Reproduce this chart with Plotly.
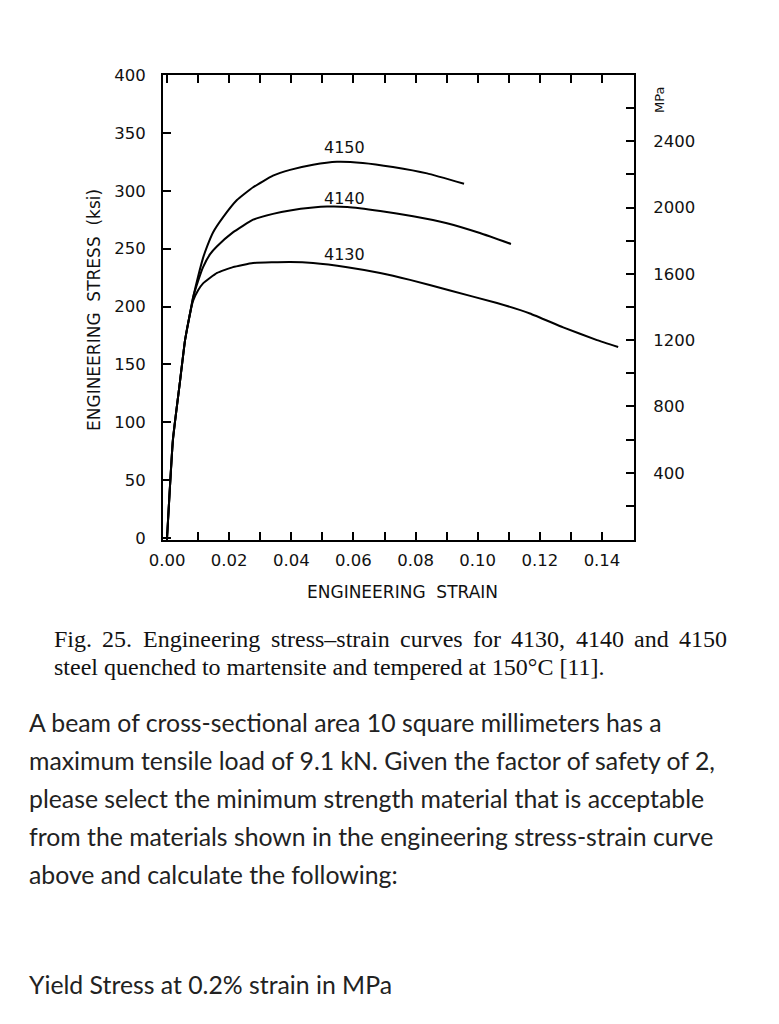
import plotly.graph_objects as go

# ---------------- data ----------------
strain_4130 = [0, 0.0019, 0.0042, 0.0058, 0.0074, 0.0084, 0.0100, 0.0116, 0.0161, 0.0212,
               0.0277, 0.0396, 0.0470, 0.0580, 0.0686, 0.0782, 0.0908, 0.1062, 0.1168,
               0.1275, 0.1384, 0.1452]
stress_4130 = [0, 85, 136, 171, 194, 205, 214, 220, 229, 234,
               237.6, 238.4, 237.6, 234, 229, 223, 214, 203, 194,
               182, 171, 165]

strain_4140 = [0, 0.0019, 0.0042, 0.0058, 0.0074, 0.0084, 0.0100, 0.0116, 0.0138, 0.0161,
               0.0212, 0.0277, 0.0341, 0.0396, 0.0470, 0.0515, 0.0580, 0.0686, 0.0792,
               0.0901, 0.1007, 0.1107]
stress_4140 = [0, 85, 136, 171, 194, 208, 222, 234, 245, 252,
               264, 275, 280, 283, 285.5, 286.3, 286, 282.5, 278,
               272, 263.5, 254]

strain_4150 = [0, 0.0019, 0.0042, 0.0058, 0.0074, 0.0084, 0.0100, 0.0116, 0.0129, 0.0148,
               0.0180, 0.0225, 0.0277, 0.0341, 0.0396, 0.0470, 0.0547, 0.0630, 0.0727,
               0.0837, 0.0956]
stress_4150 = [0, 85, 136, 171, 194, 208, 226, 242, 252, 264,
               277, 292, 303, 313, 318, 322.5, 325, 324, 320.5,
               315, 306]

curve_names = ["4130", "4140", "4150"]
curve_label_pos = [(0.057, 244.5), (0.057, 293.7), (0.057, 337.8)]

x_tickvals = [round(i * 0.01, 2) for i in range(15)]
x_ticktext = ["0.00", "", "0.02", "", "0.04", "", "0.06", "", "0.08", "", "0.10", "", "0.12", "", "0.14"]
ksi_tickvals = [0, 50, 100, 150, 200, 250, 300, 350, 400]
mpa_tickvals = [200, 400, 600, 800, 1000, 1200, 1400, 1600, 1800, 2000, 2200, 2400, 2600]
mpa_ticktext = ["", "400", "", "800", "", "1200", "", "1600", "", "2000", "", "2400", ""]

caption_line1 = ["Fig.", "25.", "Engineering", "stress–strain", "curves", "for",
                 "4130,", "4140", "and", "4150"]
caption_line1_em = [1.584, 1.25, 4.888, 4.944, 2.61, 1.166, 2.25, 2.0, 1.444, 2.0]
caption_line2 = "steel quenched to martensite and tempered at 150°C [11]."

question_lines = [
    "A beam of cross-sectional area 10 square millimeters has a",
    "maximum tensile load of 9.1 kN. Given the factor of safety of 2,",
    "please select the minimum strength material that is acceptable",
    "from the materials shown in the engineering stress-strain curve",
    "above and calculate the following:",
]
question_last = "Yield Stress at 0.2% strain in MPa"

# ---------------- figure ----------------
W, H = 779, 1024
px = lambda v: v / W
py = lambda v: 1 - v / H

AXFONT = dict(family="DejaVu Sans", size=16.5, color="#111")

fig = go.Figure()
for sx, sy, name in [(strain_4130, stress_4130, "4130"),
                     (strain_4140, stress_4140, "4140"),
                     (strain_4150, stress_4150, "4150")]:
    fig.add_trace(go.Scatter(x=sx, y=sy, mode="lines", name=name,
                             line=dict(color="black", width=2, shape="spline", smoothing=0.4),
                             showlegend=False, hoverinfo="skip"))
fig.add_trace(go.Scatter(x=[None], y=[None], yaxis="y2", showlegend=False, hoverinfo="skip"))

fig.update_layout(
    width=W, height=H, margin=dict(l=0, r=0, t=0, b=0, autoexpand=False),
    paper_bgcolor="white", plot_bgcolor="white",
    xaxis=dict(domain=[px(163), px(634)], range=[-0.0013, 0.1503],
               tickvals=x_tickvals, ticktext=x_ticktext, ticks="inside", ticklen=8,
               tickwidth=1.5, tickcolor="black", showline=True, linewidth=2,
               linecolor="black", mirror="ticks", showgrid=False, zeroline=False,
               tickfont=AXFONT, ticklabelstandoff=4),
    yaxis=dict(domain=[py(540), py(75)], range=[-1.73, 400],
               tickvals=ksi_tickvals, ticks="inside", ticklen=8, tickwidth=1.5,
               tickcolor="black", showline=True, linewidth=2, linecolor="black",
               showgrid=False, zeroline=False, tickfont=AXFONT, ticklabelstandoff=12),
    yaxis2=dict(overlaying="y", side="right", anchor="x", range=[-6, 2800],
                tickvals=mpa_tickvals, ticktext=mpa_ticktext, ticks="inside", ticklen=8,
                tickwidth=1.5, tickcolor="black", showline=True, linewidth=2,
                linecolor="black", showgrid=False, zeroline=False, tickfont=AXFONT,
                ticklabelstandoff=14),
)

ann = []
for name, (xv, yv) in zip(curve_names, curve_label_pos):
    ann.append(dict(x=xv, y=yv, xref="x", yref="y", text=name, showarrow=False,
                    xanchor="center", yanchor="middle",
                    font=dict(family="DejaVu Sans", size=16, color="#111")))

ann.append(dict(x=px(94), y=py(310), xref="paper", yref="paper", textangle=-90,
                xanchor="center", yanchor="middle",
                text="ENGINEERING  STRESS  (ksi)", showarrow=False,
                font=dict(family="DejaVu Sans", size=17, color="#111")))
ann.append(dict(x=px(402), y=py(592), xref="paper", yref="paper",
                xanchor="center", yanchor="middle",
                text="ENGINEERING  STRAIN", showarrow=False,
                font=dict(family="DejaVu Sans", size=17, color="#111")))
ann.append(dict(x=px(659), y=py(100), xref="paper", yref="paper", textangle=-90,
                xanchor="center", yanchor="middle",
                text="MPa", showarrow=False,
                font=dict(family="DejaVu Sans", size=13, color="#111")))

# caption line 1, justified between 52 and 725
cap_size = 24
left, right = 52, 725
natural = sum(caption_line1_em) * cap_size
gap = (right - left - natural) / (len(caption_line1) - 1)
xpos = left
for word, em in zip(caption_line1, caption_line1_em):
    ann.append(dict(x=px(xpos), y=py(639), xref="paper", yref="paper", text=word,
                    xanchor="left", yanchor="middle", showarrow=False,
                    font=dict(family="Liberation Serif", size=cap_size, color="#111")))
    xpos += em * cap_size + gap
ann.append(dict(x=px(52), y=py(667), xref="paper", yref="paper", text=caption_line2,
                xanchor="left", yanchor="middle", showarrow=False,
                font=dict(family="Liberation Serif", size=cap_size, color="#111")))

for i, line in enumerate(question_lines):
    ann.append(dict(x=px(27), y=py(722 + 38 * i), xref="paper", yref="paper", text=line,
                    xanchor="left", yanchor="middle", showarrow=False,
                    font=dict(family="Lato", size=24.8, color="#222")))
ann.append(dict(x=px(27), y=py(984), xref="paper", yref="paper", text=question_last,
                xanchor="left", yanchor="middle", showarrow=False,
                font=dict(family="Lato", size=24.8, color="#222")))

fig.update_layout(annotations=ann)
fig.write_html("out.html",
               post_script="document.documentElement.style.margin='0';"
                           "document.body.style.margin='0';"
                           "document.body.style.padding='0';"
                           "document.body.style.overflow='hidden';")
